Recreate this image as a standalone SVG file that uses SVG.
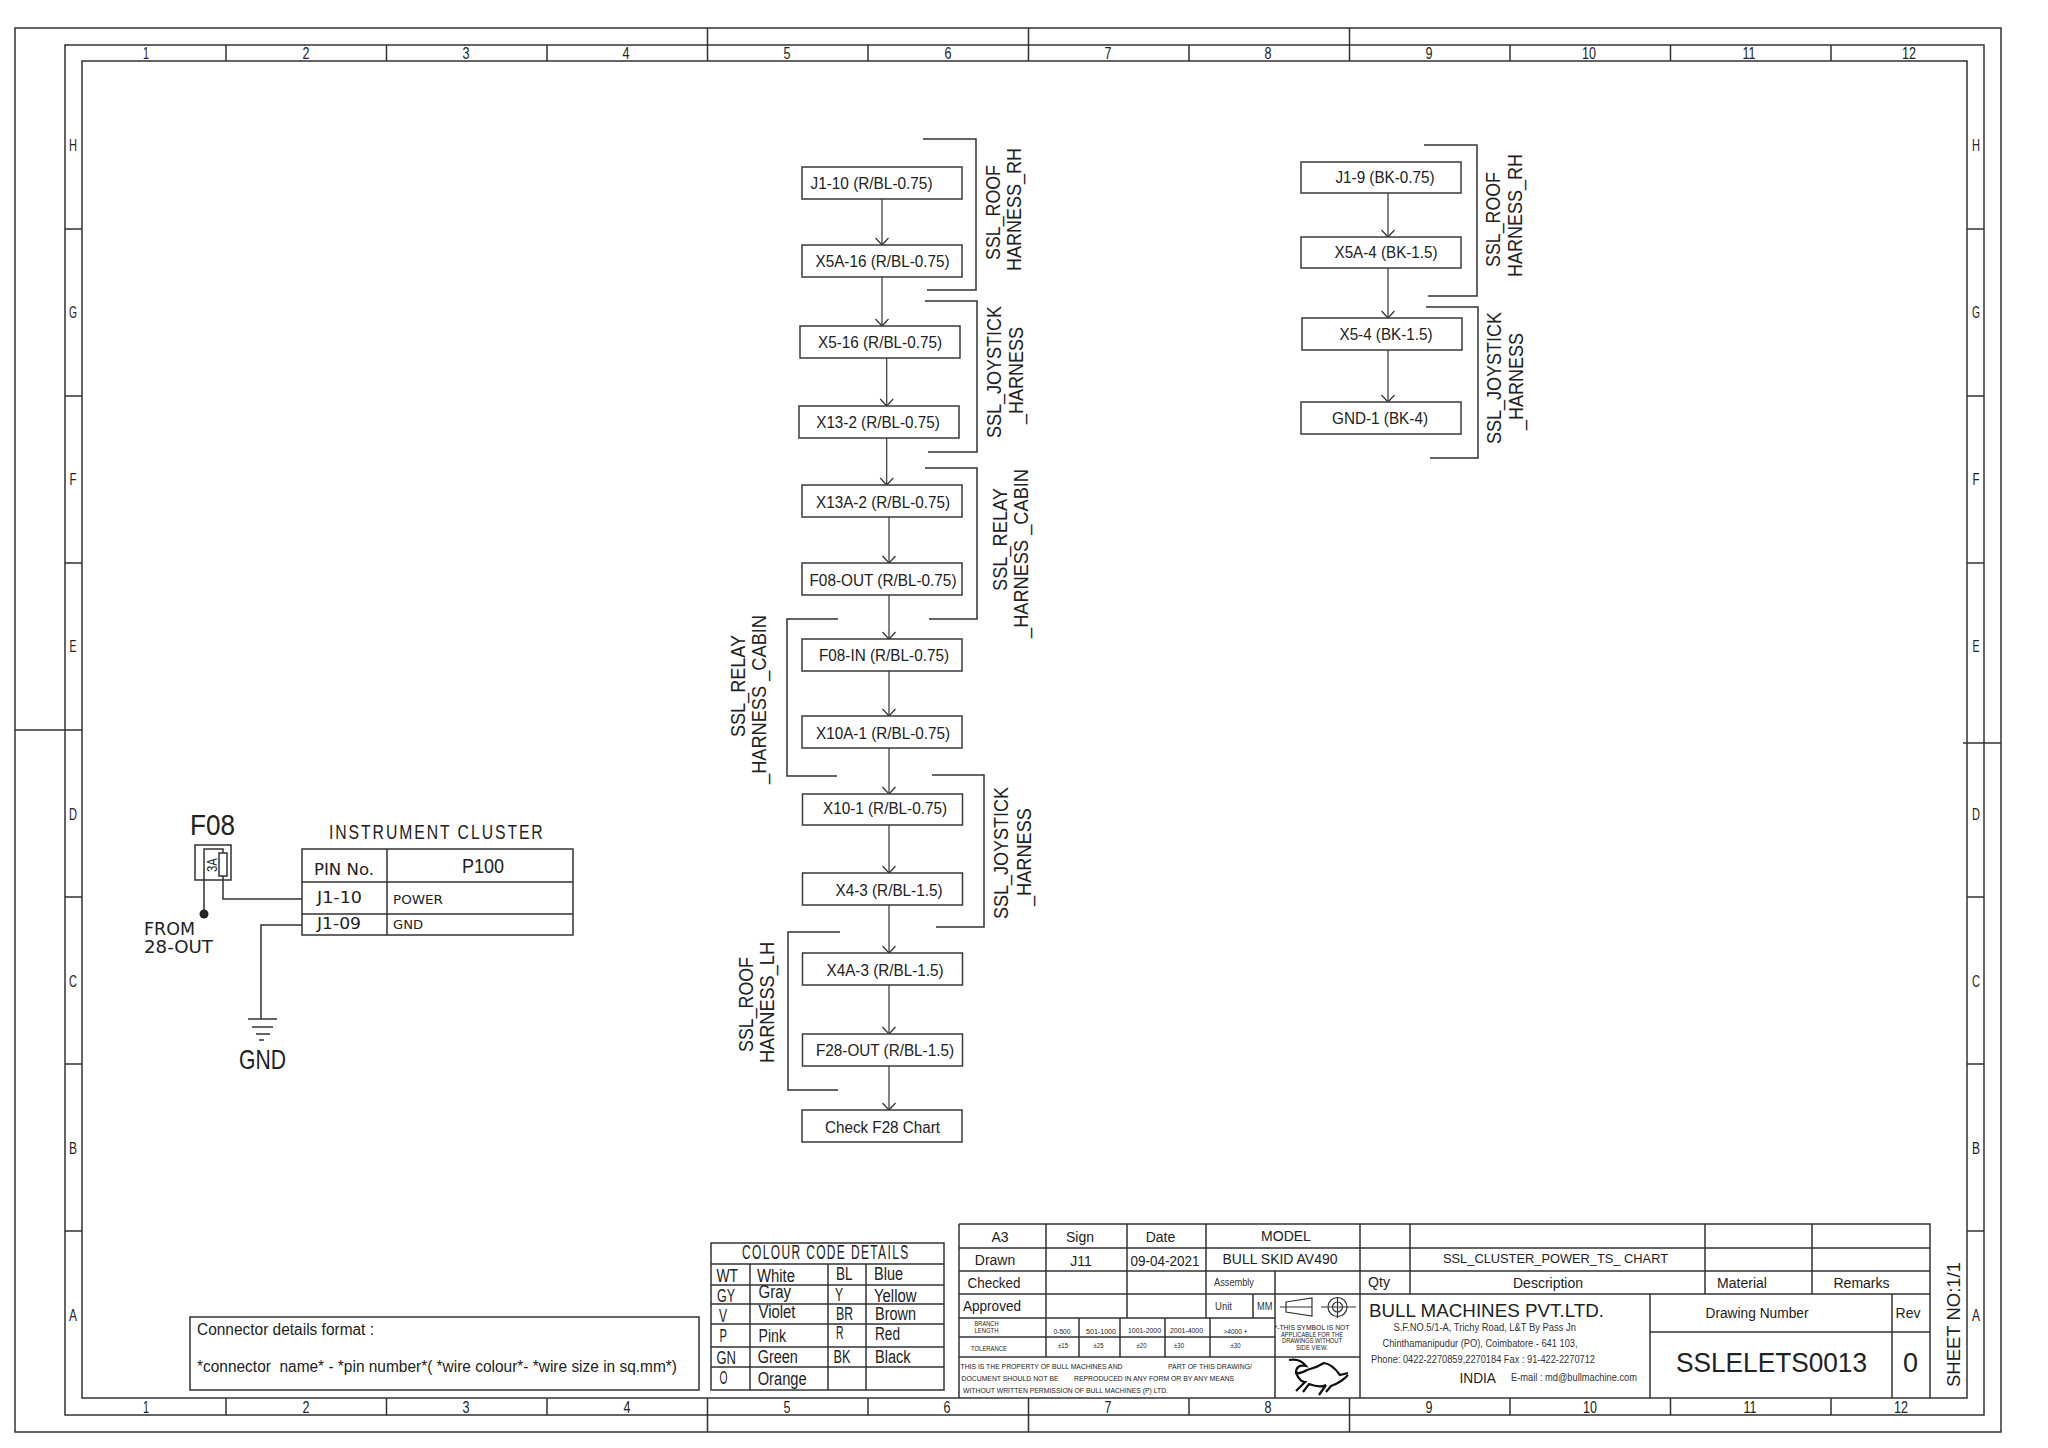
<svg xmlns="http://www.w3.org/2000/svg" width="2048" height="1448" viewBox="0 0 2048 1448">
<style>
text{font-family:"Liberation Sans",Arial,sans-serif;fill:#222}
.ln{fill:none;stroke:#333;stroke-width:1.5}
.thin{fill:none;stroke:#333;stroke-width:1.2}
.box{fill:#fff;stroke:#3a3a3a;stroke-width:1.5}
.n{font-size:16.2px;text-anchor:middle}
.h{font-size:20.5px}
.g{font-size:17px;text-anchor:middle;fill:#333}
.c{font-size:18px;fill:#222}
.t{font-size:14px;text-anchor:middle}
.s{font-size:10px;fill:#333}
.xs{font-size:7px;fill:#333}
.xsm{font-size:7px;fill:#333;text-anchor:middle}
.d{font-family:"DejaVu Sans",sans-serif;fill:#222}
</style>
<defs>
<marker id="arr" markerUnits="userSpaceOnUse" markerWidth="10" markerHeight="16" refX="8" refY="8" orient="auto" overflow="visible">
<path d="M1 1.5L8 8L1 14.5" fill="none" stroke="#333" stroke-width="1.2"/>
</marker>
</defs>
<rect width="2048" height="1448" fill="#fff"/>

<g id="frame">
<rect class="ln" x="15" y="28" width="1986" height="1404"/>
<rect class="ln" x="65" y="45" width="1919" height="1370"/>
<rect class="ln" x="82" y="61" width="1885" height="1337"/>
<path class="ln" d="M226 45V61M386.500 45V61M547 45V61M868 45V61M1189 45V61M1510 45V61M1670.500 45V61M1831 45V61M707.500 28V61M1028.500 28V61M1349.500 28V61
M226 1398V1415M386.500 1398V1415M547 1398V1415M868 1398V1415M1189 1398V1415M1510 1398V1415M1670.500 1398V1415M1831 1398V1415M707.500 1398V1432M1028.500 1398V1432M1349.500 1398V1432
M65 229H82M65 396H82M65 563H82M65 897H82M65 1064H82M65 1231H82M15 730H82
M1967 229H1984M1967 396H1984M1967 563H1984M1967 897H1984M1967 1064H1984M1967 1231H1984M1963 743H2001"/>
<g class="g">
<text x="146" y="59" textLength="6" lengthAdjust="spacingAndGlyphs">1</text><text x="306" y="59" textLength="7" lengthAdjust="spacingAndGlyphs">2</text><text x="466" y="59" textLength="7" lengthAdjust="spacingAndGlyphs">3</text><text x="626" y="59" textLength="7" lengthAdjust="spacingAndGlyphs">4</text><text x="787" y="59" textLength="7" lengthAdjust="spacingAndGlyphs">5</text><text x="948" y="59" textLength="7" lengthAdjust="spacingAndGlyphs">6</text><text x="1108" y="59" textLength="7" lengthAdjust="spacingAndGlyphs">7</text><text x="1268" y="59" textLength="7" lengthAdjust="spacingAndGlyphs">8</text><text x="1429" y="59" textLength="7" lengthAdjust="spacingAndGlyphs">9</text><text x="1589" y="59" textLength="14" lengthAdjust="spacingAndGlyphs">10</text><text x="1749" y="59" textLength="13" lengthAdjust="spacingAndGlyphs">11</text><text x="1909" y="59" textLength="14" lengthAdjust="spacingAndGlyphs">12</text>
<text x="146" y="1413" textLength="6" lengthAdjust="spacingAndGlyphs">1</text><text x="306" y="1413" textLength="7" lengthAdjust="spacingAndGlyphs">2</text><text x="466" y="1413" textLength="7" lengthAdjust="spacingAndGlyphs">3</text><text x="627" y="1413" textLength="7" lengthAdjust="spacingAndGlyphs">4</text><text x="787" y="1413" textLength="7" lengthAdjust="spacingAndGlyphs">5</text><text x="947" y="1413" textLength="7" lengthAdjust="spacingAndGlyphs">6</text><text x="1108" y="1413" textLength="7" lengthAdjust="spacingAndGlyphs">7</text><text x="1268" y="1413" textLength="7" lengthAdjust="spacingAndGlyphs">8</text><text x="1429" y="1413" textLength="7" lengthAdjust="spacingAndGlyphs">9</text><text x="1590" y="1413" textLength="14" lengthAdjust="spacingAndGlyphs">10</text><text x="1750" y="1413" textLength="13" lengthAdjust="spacingAndGlyphs">11</text><text x="1901" y="1413" textLength="14" lengthAdjust="spacingAndGlyphs">12</text>
<text x="73" y="151" textLength="8" lengthAdjust="spacingAndGlyphs">H</text><text x="73" y="318" textLength="8" lengthAdjust="spacingAndGlyphs">G</text><text x="73" y="485" textLength="7" lengthAdjust="spacingAndGlyphs">F</text><text x="73" y="652" textLength="7" lengthAdjust="spacingAndGlyphs">E</text><text x="73" y="820" textLength="8" lengthAdjust="spacingAndGlyphs">D</text><text x="73" y="987" textLength="8" lengthAdjust="spacingAndGlyphs">C</text><text x="73" y="1154" textLength="8" lengthAdjust="spacingAndGlyphs">B</text><text x="73" y="1321" textLength="8" lengthAdjust="spacingAndGlyphs">A</text>
<text x="1976" y="151" textLength="8" lengthAdjust="spacingAndGlyphs">H</text><text x="1976" y="318" textLength="8" lengthAdjust="spacingAndGlyphs">G</text><text x="1976" y="485" textLength="7" lengthAdjust="spacingAndGlyphs">F</text><text x="1976" y="652" textLength="7" lengthAdjust="spacingAndGlyphs">E</text><text x="1976" y="820" textLength="8" lengthAdjust="spacingAndGlyphs">D</text><text x="1976" y="987" textLength="8" lengthAdjust="spacingAndGlyphs">C</text><text x="1976" y="1154" textLength="8" lengthAdjust="spacingAndGlyphs">B</text><text x="1976" y="1321" textLength="8" lengthAdjust="spacingAndGlyphs">A</text>
</g>
</g>

<g id="connectors">
<path class="thin" marker-end="url(#arr)" d="M882 199V245"/>
<path class="thin" marker-end="url(#arr)" d="M882 277V326"/>
<path class="thin" marker-end="url(#arr)" d="M886.700 358V406"/>
<path class="thin" marker-end="url(#arr)" d="M886.700 438V485"/>
<path class="thin" marker-end="url(#arr)" d="M889 517V563"/>
<path class="thin" marker-end="url(#arr)" d="M889 595V639"/>
<path class="thin" marker-end="url(#arr)" d="M889 671V716"/>
<path class="thin" marker-end="url(#arr)" d="M889 748V794"/>
<path class="thin" marker-end="url(#arr)" d="M889 825V873"/>
<path class="thin" marker-end="url(#arr)" d="M889 905V953"/>
<path class="thin" marker-end="url(#arr)" d="M889 985V1034"/>
<path class="thin" marker-end="url(#arr)" d="M889 1066V1110"/>
<path class="thin" marker-end="url(#arr)" d="M1388 193V237"/>
<path class="thin" marker-end="url(#arr)" d="M1388 268V318"/>
<path class="thin" marker-end="url(#arr)" d="M1388 350V402"/>
<path class="ln" d="M204 914V849H223V853M223 876V899H302"/>
<path class="ln" d="M302 925H261V1019"/>
</g>

<g id="harness-labels">
<path class="ln" d="M923 139H976V290H927"/>
<text class="h" transform="translate(1000 260) rotate(-90)" textLength="95" lengthAdjust="spacingAndGlyphs">SSL_ROOF</text>
<text class="h" transform="translate(1021 271) rotate(-90)" textLength="123" lengthAdjust="spacingAndGlyphs">HARNESS_RH</text>
<path class="ln" d="M925 301H977V452H928"/>
<text class="h" transform="translate(1001 438) rotate(-90)" textLength="132" lengthAdjust="spacingAndGlyphs">SSL_JOYSTICK</text>
<text class="h" transform="translate(1023 424) rotate(-90)" textLength="97" lengthAdjust="spacingAndGlyphs">_HARNESS</text>
<path class="ln" d="M925 468H977V619H929"/>
<text class="h" transform="translate(1007 591) rotate(-90)" textLength="103" lengthAdjust="spacingAndGlyphs">SSL_RELAY</text>
<text class="h" transform="translate(1028 638) rotate(-90)" textLength="169" lengthAdjust="spacingAndGlyphs">_HARNESS _CABIN</text>
<path class="ln" d="M838 619H787V776H837"/>
<text class="h" transform="translate(745 737) rotate(-90)" textLength="102" lengthAdjust="spacingAndGlyphs">SSL_RELAY</text>
<text class="h" transform="translate(766 784) rotate(-90)" textLength="169" lengthAdjust="spacingAndGlyphs">_HARNESS _CABIN</text>
<path class="ln" d="M932 775H984V927H936"/>
<text class="h" transform="translate(1008 919) rotate(-90)" textLength="132" lengthAdjust="spacingAndGlyphs">SSL_JOYSTICK</text>
<text class="h" transform="translate(1031 906) rotate(-90)" textLength="98" lengthAdjust="spacingAndGlyphs">_HARNESS</text>
<path class="ln" d="M840 932H788V1090H838"/>
<text class="h" transform="translate(753 1052) rotate(-90)" textLength="95" lengthAdjust="spacingAndGlyphs">SSL_ROOF</text>
<text class="h" transform="translate(774 1063) rotate(-90)" textLength="121" lengthAdjust="spacingAndGlyphs">HARNESS_LH</text>
<path class="ln" d="M1424 145H1477V296H1428"/>
<text class="h" transform="translate(1500 267) rotate(-90)" textLength="95" lengthAdjust="spacingAndGlyphs">SSL_ROOF</text>
<text class="h" transform="translate(1522 277) rotate(-90)" textLength="123" lengthAdjust="spacingAndGlyphs">HARNESS_RH</text>
<path class="ln" d="M1426 307H1478V458H1430"/>
<text class="h" transform="translate(1501 444) rotate(-90)" textLength="132" lengthAdjust="spacingAndGlyphs">SSL_JOYSTICK</text>
<text class="h" transform="translate(1523 430) rotate(-90)" textLength="97" lengthAdjust="spacingAndGlyphs">_HARNESS</text>
</g>

<g id="n-j1-10"><rect class="box" x="802" y="167" width="160" height="32"/><text class="n" x="871.500" y="189" textLength="122" lengthAdjust="spacingAndGlyphs">J1-10 (R/BL-0.75)</text></g>
<g id="n-x5a-16"><rect class="box" x="802" y="245" width="160" height="32"/><text class="n" x="882.500" y="266.500" textLength="134" lengthAdjust="spacingAndGlyphs">X5A-16 (R/BL-0.75)</text></g>
<g id="n-x5-16"><rect class="box" x="800" y="326" width="160" height="32"/><text class="n" x="880" y="348" textLength="124" lengthAdjust="spacingAndGlyphs">X5-16 (R/BL-0.75)</text></g>
<g id="n-x13-2"><rect class="box" x="799" y="406" width="160" height="32"/><text class="n" x="878" y="428" textLength="123.500" lengthAdjust="spacingAndGlyphs">X13-2 (R/BL-0.75)</text></g>
<g id="n-x13a-2"><rect class="box" x="802" y="485" width="160" height="32"/><text class="n" x="883" y="508" textLength="134" lengthAdjust="spacingAndGlyphs">X13A-2 (R/BL-0.75)</text></g>
<g id="n-f08-out"><rect class="box" x="802" y="563" width="160" height="32"/><text class="n" x="883" y="586" textLength="147" lengthAdjust="spacingAndGlyphs">F08-OUT (R/BL-0.75)</text></g>
<g id="n-f08-in"><rect class="box" x="802" y="639" width="160" height="32"/><text class="n" x="884" y="661" textLength="130" lengthAdjust="spacingAndGlyphs">F08-IN (R/BL-0.75)</text></g>
<g id="n-x10a-1"><rect class="box" x="802" y="716" width="160" height="32"/><text class="n" x="883" y="739" textLength="134" lengthAdjust="spacingAndGlyphs">X10A-1 (R/BL-0.75)</text></g>
<g id="n-x10-1"><rect class="box" x="802.500" y="794" width="160" height="31"/><text class="n" x="885" y="814" textLength="124" lengthAdjust="spacingAndGlyphs">X10-1 (R/BL-0.75)</text></g>
<g id="n-x4-3"><rect class="box" x="802.500" y="873" width="160" height="32"/><text class="n" x="889" y="896" textLength="107" lengthAdjust="spacingAndGlyphs">X4-3 (R/BL-1.5)</text></g>
<g id="n-x4a-3"><rect class="box" x="802.500" y="953" width="160" height="32"/><text class="n" x="885" y="976" textLength="117" lengthAdjust="spacingAndGlyphs">X4A-3 (R/BL-1.5)</text></g>
<g id="n-f28-out"><rect class="box" x="802.500" y="1034" width="160" height="32"/><text class="n" x="885" y="1056" textLength="138" lengthAdjust="spacingAndGlyphs">F28-OUT (R/BL-1.5)</text></g>
<g id="n-check"><rect class="box" x="802" y="1110" width="160" height="32"/><text class="n" x="882.500" y="1133" textLength="115" lengthAdjust="spacingAndGlyphs">Check F28 Chart</text></g>
<g id="n-j1-9"><rect class="box" x="1301" y="162" width="160" height="31"/><text class="n" x="1385" y="183" textLength="99" lengthAdjust="spacingAndGlyphs">J1-9 (BK-0.75)</text></g>
<g id="n-x5a-4"><rect class="box" x="1301" y="237" width="160" height="31"/><text class="n" x="1386" y="258" textLength="103" lengthAdjust="spacingAndGlyphs">X5A-4 (BK-1.5)</text></g>
<g id="n-x5-4"><rect class="box" x="1302" y="318" width="160" height="32"/><text class="n" x="1386" y="340" textLength="93" lengthAdjust="spacingAndGlyphs">X5-4 (BK-1.5)</text></g>
<g id="n-gnd-1"><rect class="box" x="1301" y="402" width="160" height="32"/><text class="n" x="1380" y="424" textLength="96" lengthAdjust="spacingAndGlyphs">GND-1 (BK-4)</text></g>

<g id="fuse-f08">
<text x="190" y="835" font-size="30" textLength="45" lengthAdjust="spacingAndGlyphs">F08</text>
<rect class="ln" x="195" y="845" width="36" height="35"/>
<rect class="ln" x="219" y="853" width="8" height="23"/>
<text transform="translate(217 872) rotate(-90)" font-size="14" textLength="14" lengthAdjust="spacingAndGlyphs">3A</text>
<circle cx="204" cy="914" r="4.500" fill="#222"/>
<text class="d" x="144" y="935" font-size="18" textLength="51" lengthAdjust="spacingAndGlyphs">FROM</text>
<text class="d" x="144" y="953" font-size="18" textLength="69" lengthAdjust="spacingAndGlyphs">28-OUT</text>
</g>

<g id="instrument-cluster">
<text transform="translate(329 839) scale(.75 1)" font-size="21" textLength="285" lengthAdjust="spacing">INSTRUMENT CLUSTER</text>
<rect class="ln" x="302" y="849" width="271" height="86"/>
<path class="ln" d="M302 882H573M302 914H573M387 849V935"/>
<text class="d" x="314" y="875" font-size="16" textLength="60" lengthAdjust="spacingAndGlyphs">PIN No.</text>
<text x="462" y="873" font-size="21" textLength="42" lengthAdjust="spacingAndGlyphs">P100</text>
<text class="d" x="317" y="903" font-size="16" textLength="45" lengthAdjust="spacingAndGlyphs">J1-10</text>
<text class="d" x="393" y="904" font-size="13" textLength="50" lengthAdjust="spacingAndGlyphs">POWER</text>
<text class="d" x="317" y="929" font-size="16" textLength="44" lengthAdjust="spacingAndGlyphs">J1-09</text>
<text class="d" x="393" y="929" font-size="13" textLength="30" lengthAdjust="spacingAndGlyphs">GND</text>
</g>

<g id="ground">
<path class="ln" d="M248 1019H277M252 1027H273M256 1034H270M259 1040H264"/>
<text x="239" y="1069" font-size="28" textLength="47" lengthAdjust="spacingAndGlyphs">GND</text>
</g>

<g id="format-note">
<rect class="ln" x="190" y="1317" width="509" height="73"/>
<text x="197" y="1335" font-size="16" textLength="177" lengthAdjust="spacingAndGlyphs">Connector details format :</text>
<text x="197" y="1372" font-size="16" xml:space="preserve" textLength="480" lengthAdjust="spacingAndGlyphs">*connector  name* - *pin number*( *wire colour*- *wire size in sq.mm*)</text>
</g>

<g id="colour-code">
<rect class="ln" x="711" y="1243" width="233" height="147"/>
<path class="ln" d="M711 1264H944M711 1285H944M711 1304H944M711 1324H944M711 1347H944M711 1367H944M750 1264V1390M828 1264V1390M866 1264V1390"/>
<text transform="translate(742 1259) scale(.6 1)" font-size="20" textLength="277" lengthAdjust="spacing">COLOUR CODE DETAILS</text>
<g class="c">
<text x="716.500" y="1282" textLength="21.500" lengthAdjust="spacingAndGlyphs">WT</text><text x="757" y="1282" textLength="38" lengthAdjust="spacingAndGlyphs">White</text><text x="836" y="1280" textLength="16.500" lengthAdjust="spacingAndGlyphs">BL</text><text x="874" y="1280" textLength="29" lengthAdjust="spacingAndGlyphs">Blue</text>
<text x="717" y="1302" textLength="18" lengthAdjust="spacingAndGlyphs">GY</text><text x="758.500" y="1298" textLength="32.500" lengthAdjust="spacingAndGlyphs">Gray</text><text x="835" y="1300.500" textLength="8" lengthAdjust="spacingAndGlyphs">Y</text><text x="874" y="1302" textLength="42.500" lengthAdjust="spacingAndGlyphs">Yellow</text>
<text x="719" y="1321.500" textLength="8" lengthAdjust="spacingAndGlyphs">V</text><text x="758.500" y="1318" textLength="37" lengthAdjust="spacingAndGlyphs">Violet</text><text x="836" y="1320" textLength="17" lengthAdjust="spacingAndGlyphs">BR</text><text x="875" y="1320" textLength="41" lengthAdjust="spacingAndGlyphs">Brown</text>
<text x="719.500" y="1341.500" textLength="7.500" lengthAdjust="spacingAndGlyphs">P</text><text x="758.500" y="1342" textLength="27.500" lengthAdjust="spacingAndGlyphs">Pink</text><text x="836" y="1339" textLength="7.500" lengthAdjust="spacingAndGlyphs">R</text><text x="875" y="1340" textLength="25" lengthAdjust="spacingAndGlyphs">Red</text>
<text x="716.500" y="1364" textLength="19.500" lengthAdjust="spacingAndGlyphs">GN</text><text x="757.700" y="1363" textLength="40" lengthAdjust="spacingAndGlyphs">Green</text><text x="833.500" y="1363" textLength="17" lengthAdjust="spacingAndGlyphs">BK</text><text x="875" y="1363" textLength="35.500" lengthAdjust="spacingAndGlyphs">Black</text>
<text x="719.500" y="1384" textLength="8" lengthAdjust="spacingAndGlyphs">O</text><text x="757.700" y="1385" textLength="49" lengthAdjust="spacingAndGlyphs">Orange</text>
</g>
</g>

<g id="title-block">
<path class="ln" d="M959 1224H1930V1398M959 1224V1398M959 1248H1930M959 1271H1930M959 1294H1930M959 1318H1275M959 1337H1275M959 1357H1360M1650 1332H1930
M1046 1224V1357M1127 1224V1318M1206 1224V1318M1275 1271V1398M1253 1294V1318M1360 1224V1398M1410 1224V1294M1705 1224V1294M1812 1224V1294M1650 1294V1398M1892 1294V1398M1079 1318V1357M1120 1318V1357M1165 1318V1357M1210 1318V1357"/>
<g class="t">
<text x="1000" y="1242">A3</text><text x="1080" y="1242">Sign</text><text x="1160.500" y="1242">Date</text><text x="1286" y="1241">MODEL</text>
<text x="995" y="1265">Drawn</text><text x="1081" y="1266">J11</text><text x="1165" y="1266" textLength="69" lengthAdjust="spacingAndGlyphs">09-04-2021</text><text x="1280" y="1264" textLength="115" lengthAdjust="spacingAndGlyphs">BULL SKID AV490</text>
<text x="994" y="1288" textLength="53" lengthAdjust="spacingAndGlyphs">Checked</text><text x="992" y="1311" textLength="58" lengthAdjust="spacingAndGlyphs">Approved</text>
<text x="1443" y="1263" style="text-anchor:start" font-size="13" textLength="225" lengthAdjust="spacingAndGlyphs">SSL_CLUSTER_POWER_TS_ CHART</text>
<text x="1379" y="1287">Qty</text><text x="1548" y="1288">Description</text><text x="1742" y="1288">Material</text><text x="1861.500" y="1288">Remarks</text>
<text x="1757" y="1318" textLength="103" lengthAdjust="spacingAndGlyphs">Drawing Number</text><text x="1908" y="1318">Rev</text>
</g>
<text class="s" x="1214" y="1286" textLength="40" lengthAdjust="spacingAndGlyphs">Assembly</text>
<text class="s" x="1215" y="1310" textLength="17" lengthAdjust="spacingAndGlyphs">Unit</text>
<text class="s" x="1257" y="1310" textLength="15.500" lengthAdjust="spacingAndGlyphs">MM</text>
<path class="thin" d="M1286 1302L1312 1298V1316L1286 1312ZM1280 1307H1312M1321 1307H1356M1337.500 1297V1318"/>
<circle class="thin" cx="1337.500" cy="1307" r="9.500"/><circle class="thin" cx="1337.500" cy="1307" r="5"/>
<g class="xsm">
<text x="1312" y="1330" textLength="75" lengthAdjust="spacingAndGlyphs">*-THIS SYMBOL IS NOT</text><text x="1312" y="1336.500" textLength="62" lengthAdjust="spacingAndGlyphs">APPLICABLE FOR THE</text><text x="1312" y="1343" textLength="60" lengthAdjust="spacingAndGlyphs">DRAWINGS WITHOUT</text><text x="1312" y="1350" textLength="32" lengthAdjust="spacingAndGlyphs">SIDE VIEW.</text>
<text x="1062" y="1334" textLength="17" lengthAdjust="spacingAndGlyphs">0-500</text><text x="1101" y="1334" textLength="30" lengthAdjust="spacingAndGlyphs">501-1000</text><text x="1144.500" y="1333" textLength="33" lengthAdjust="spacingAndGlyphs">1001-2000</text><text x="1186.500" y="1333" textLength="33" lengthAdjust="spacingAndGlyphs">2001-4000</text><text x="1235.500" y="1334" textLength="24" lengthAdjust="spacingAndGlyphs">&gt;4000 +</text>
<text x="1063" y="1348" textLength="10" lengthAdjust="spacingAndGlyphs">±15</text><text x="1098.500" y="1348" textLength="10" lengthAdjust="spacingAndGlyphs">±25</text><text x="1141.500" y="1348" textLength="10" lengthAdjust="spacingAndGlyphs">±20</text><text x="1179" y="1348" textLength="10" lengthAdjust="spacingAndGlyphs">±30</text><text x="1235.500" y="1348" textLength="10" lengthAdjust="spacingAndGlyphs">±30</text>
</g>
<g class="xs">
<text x="974.500" y="1326" textLength="24" lengthAdjust="spacingAndGlyphs">BRANCH</text><text x="974.500" y="1333" textLength="24" lengthAdjust="spacingAndGlyphs">LENGTH</text><text x="971" y="1351" textLength="36" lengthAdjust="spacingAndGlyphs">TOLERANCE</text>
<text x="960.500" y="1369" textLength="162" lengthAdjust="spacingAndGlyphs">THIS IS THE PROPERTY OF BULL MACHINES AND</text><text x="1168" y="1369" textLength="84" lengthAdjust="spacingAndGlyphs">PART OF THIS DRAWING/</text>
<text x="961.500" y="1381" textLength="97" lengthAdjust="spacingAndGlyphs">DOCUMENT SHOULD NOT BE</text><text x="1074" y="1381" textLength="160" lengthAdjust="spacingAndGlyphs">REPRODUCED IN ANY FORM OR BY ANY MEANS</text>
<text x="963" y="1393" textLength="205" lengthAdjust="spacingAndGlyphs">WITHOUT WRITTEN PERMISSION OF BULL MACHINES (P) LTD.</text>
</g>
<path d="M1289 1360Q1300 1358 1306 1366Q1296 1364 1296 1373Q1300 1374 1307 1370Q1316 1368 1324 1363Q1332 1364 1340 1375L1348 1373M1296 1373Q1300 1382 1305 1382L1296 1391M1303 1392L1309 1384Q1320 1388 1326 1385L1319 1395M1326 1392L1331 1386Q1342 1382 1348 1375" fill="none" stroke="#111" stroke-width="2.200"/>
<text x="1369" y="1317" font-size="19" textLength="235" lengthAdjust="spacingAndGlyphs">BULL MACHINES PVT.LTD.</text>
<text class="s" x="1393.500" y="1331" textLength="182.500" lengthAdjust="spacingAndGlyphs">S.F.NO.5/1-A, Trichy Road, L&amp;T By Pass Jn</text>
<text class="s" x="1382.500" y="1347" textLength="195" lengthAdjust="spacingAndGlyphs">Chinthamanipudur (PO), Coimbatore - 641 103,</text>
<text class="s" x="1371" y="1363" textLength="224" lengthAdjust="spacingAndGlyphs">Phone: 0422-2270859,2270184 Fax : 91-422-2270712</text>
<text x="1459.500" y="1383" font-size="14" textLength="36.500" lengthAdjust="spacingAndGlyphs">INDIA</text>
<text class="s" x="1511" y="1381" textLength="126" lengthAdjust="spacingAndGlyphs">E-mail : md@bullmachine.com</text>
<text x="1676" y="1372" font-size="27" textLength="191" lengthAdjust="spacingAndGlyphs">SSLELETS0013</text>
<text x="1910.500" y="1372" font-size="27" text-anchor="middle">0</text>
<text transform="translate(1960 1387) rotate(-90)" font-size="18" textLength="125" lengthAdjust="spacingAndGlyphs">SHEET NO:1/1</text>
</g>
</svg>
